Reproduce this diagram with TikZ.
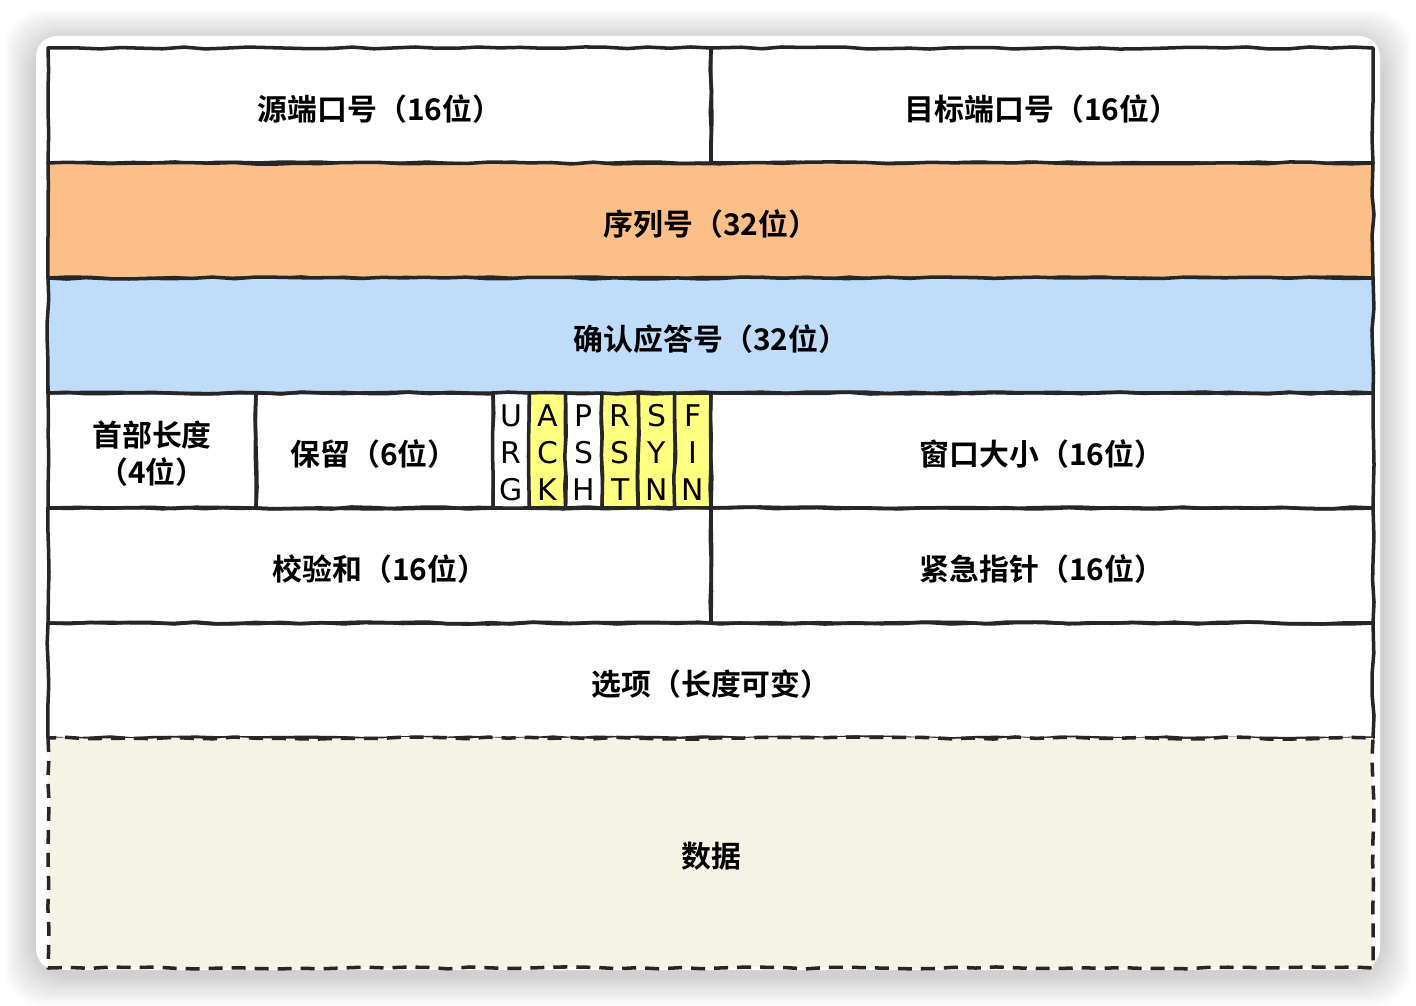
\documentclass[tikz,border=0pt]{standalone}
\usepackage{fontspec}
\newfontfamily\cjk{Noto Sans CJK SC}[BoldFont={* Bold}]
\newfontfamily\flagfont{DejaVu Sans}
\usetikzlibrary{calc, decorations.pathmorphing}

\definecolor{seqorange}{HTML}{FDBF88}
\definecolor{ackblue}{HTML}{BFDDFB}
\definecolor{flagyellow}{HTML}{FFFF80}
\definecolor{databg}{HTML}{F5F3E6}

\tikzset{
 cell/.style = {draw = black!85, line width = 2pt, line join = round,
  decorate, decoration = {random steps, segment length = 12pt, amplitude = 0.6pt}},
 label/.style = {font = \cjk\bfseries\fontsize{17}{21}\selectfont, align = center},
 flag/.style = {font = \flagfont\fontsize{17}{20}\selectfont, inner sep = 0pt}
}

\begin{document}
\begin{tikzpicture}[x = 0.02cm, y = -0.02cm]
 \useasboundingbox (0,0) rectangle (1416,1006);
 % panel and its shadow
 \foreach \i in {1,...,16}
  \fill[black, opacity = 0.011, rounded corners = 22] (36-2*\i, 42-2*\i) rectangle (1380+2*\i, 974+2*\i);
 \fill[white, rounded corners = 12] (36,36) rectangle (1380,970);

 % rows
 \draw[cell] (48,48) rectangle (711,163);
 \draw[cell] (711,48) rectangle (1373,163);
 \draw[cell, fill = seqorange] (48,163) rectangle (1373,278);
 \draw[cell, fill = ackblue] (48,278) rectangle (1373,393);
 \draw[cell] (48,393) rectangle (256,508);
 \draw[cell] (256,393) rectangle (493,508);
 \draw[cell] (711,393) rectangle (1373,508);
 \draw[cell] (48,508) rectangle (711,623);
 \draw[cell] (711,508) rectangle (1373,623);
 \draw[cell] (48,623) rectangle (1373,738);
 \draw[cell, fill = databg, dash pattern = on 0.28cm off 0.18cm] (48,738) rectangle (1373,968);

 % flag bits
 \foreach \la/\lb/\lc/\fc [count = \k from 0] in {U/R/G/white, A/C/K/flagyellow, P/S/H/white, R/S/T/flagyellow, S/Y/N/flagyellow, F/I/N/flagyellow}{
  \pgfmathsetmacro{\xa}{493+36.33*\k}
  \pgfmathsetmacro{\xb}{493+36.33*(\k+1)}
  \draw[cell, fill = \fc] (\xa,393) rectangle (\xb,508);
  \node[flag] (f\k a) at ({(\xa+\xb)/2},416) {\la};
  \node[flag] (f\k b) at ({(\xa+\xb)/2},453) {\lb};
  \node[flag] (f\k c) at ({(\xa+\xb)/2},490) {\lc};
 }

 \node[label] (src) at (380,109) {源端口号（16位）};
 \node[label] (dst) at (1042,109) {目标端口号（16位）};
 \node[label] (seq) at (711,224) {序列号（32位）};
 \node[label] (ack) at (711,339) {确认应答号（32位）};
 \node[label] (hlen) at (152,454) {首部长度\\（4位）};
 \node[label] (rsv) at (374,454) {保留（6位）};
 \node[label] (win) at (1042,454) {窗口大小（16位）};
 \node[label] (sum) at (380,569) {校验和（16位）};
 \node[label] (urp) at (1042,569) {紧急指针（16位）};
 \node[label] (opt) at (711,684) {选项（长度可变）};
 \node[label] (data) at (711,856) {数据};
\end{tikzpicture}
\end{document}
